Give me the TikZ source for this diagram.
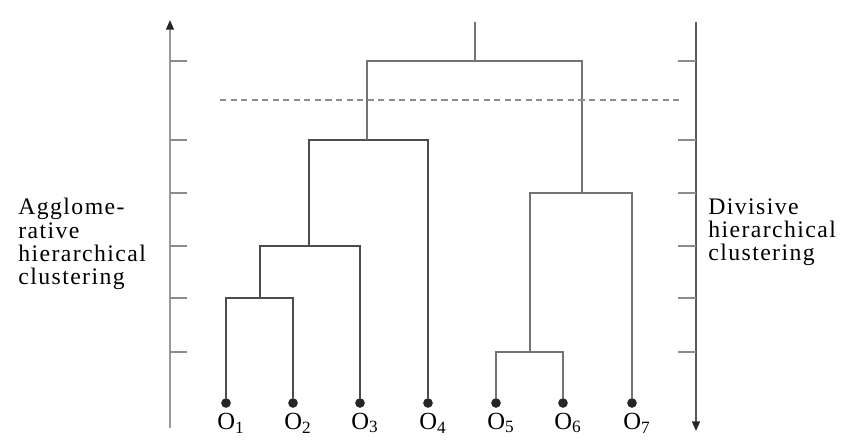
\documentclass[tikz,border=0pt]{standalone}
\usepackage{fontspec}
\setmainfont{Liberation Serif}
\newfontfamily\sidefont[LetterSpace=6]{Liberation Serif}
\usetikzlibrary{arrows.meta}
\tikzset{
  leaf/.style={circle,fill=black!85,inner sep=0pt,minimum size=5.5pt},
  leaflabel/.style={inner sep=0pt,font=\fontsize{14}{15}\selectfont},
  sidetext/.style={align=left,inner sep=0pt,anchor=north west,
    font=\sidefont\fontsize{13.5}{13.2}\selectfont},
  branch/.style={line width=0.9pt,draw=black!70},
  branchlight/.style={line width=0.9pt,draw=black!55},
  axisup/.style={-{Triangle[length=5.5pt,width=4.5pt,color=black!85]},line width=0.9pt,draw=black!40},
  axisdown/.style={-{Triangle[length=5.5pt,width=4.5pt,color=black!85]},line width=0.9pt,draw=black!65},
  tick/.style={line width=0.9pt,draw=black!45},
  cutline/.style={line width=0.9pt,draw=black!45,dash pattern=on 3.5pt off 2.5pt},
}
\begin{document}
\begin{tikzpicture}[x=0.02cm,y=-0.02cm]
  \useasboundingbox (0,0) rectangle (850,441);
  \node[leaf] (o1) at (226,403) {};
  \node[leaf] (o2) at (293,403) {};
  \node[leaf] (o3) at (360,403) {};
  \node[leaf] (o4) at (428,403) {};
  \node[leaf] (o5) at (496,403) {};
  \node[leaf] (o6) at (563,403) {};
  \node[leaf] (o7) at (632,403) {};
  \node[leaflabel] (l1) at (231,423) {O\textsubscript{1}};
  \node[leaflabel] (l2) at (298,423) {O\textsubscript{2}};
  \node[leaflabel] (l3) at (365,423) {O\textsubscript{3}};
  \node[leaflabel] (l4) at (433,423) {O\textsubscript{4}};
  \node[leaflabel] (l5) at (501,423) {O\textsubscript{5}};
  \node[leaflabel] (l6) at (568,423) {O\textsubscript{6}};
  \node[leaflabel] (l7) at (637,423) {O\textsubscript{7}};
  \coordinate (m12) at (260,298);
  \coordinate (m123) at (309,246);
  \coordinate (m1234) at (367,140);
  \coordinate (m56) at (530,352);
  \coordinate (m567) at (582,193);
  \coordinate (mall) at (475,61);
  \coordinate (root) at (475,22);
  \draw[branch] (o1) |- (m12) -| (o2);
  \draw[branch] (m12) |- (m123) -| (o3);
  \draw[branch] (m123) |- (m1234) -| (o4);
  \draw[branchlight] (o5) |- (m56) -| (o6);
  \draw[branchlight] (m56) |- (m567) -| (o7);
  \draw[branchlight] (m1234) |- (mall) -| (m567);
  \draw[branchlight] (mall) -- (root);
  \coordinate (lbot) at (170,428);
  \coordinate (ltop) at (170,20);
  \coordinate (rtop) at (696,22);
  \coordinate (rbot) at (696,431);
  \draw[axisup] (lbot) -- (ltop);
  \draw[axisdown] (rtop) -- (rbot);
  \foreach \y in {61,140,193,246,298,352} {
    \draw[tick] (170,\y) -- (187,\y);
    \draw[tick] (696,\y) -- (678,\y);
  }
  \coordinate (cutl) at (220,100);
  \coordinate (cutr) at (680,100);
  \draw[cutline] (cutl) -- (cutr);
  \node[sidetext] (agg) at (18,198) {Agglome-\\rative\\hierarchical\\clustering};
  \node[sidetext] (div) at (708,198) {Divisive\\hierarchical\\clustering};
\end{tikzpicture}
\end{document}
